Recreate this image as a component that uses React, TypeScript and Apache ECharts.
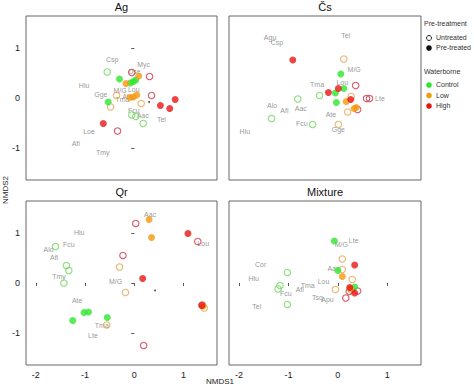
import React, { useEffect, useRef } from "react";
import * as echarts from "echarts";

// [x, y, waterborne level, pre-treated?]
type Pt = [number, number, "Control" | "Low" | "High", boolean];
type Lb = [string, number, number];

const panelTitles = ["Ag", "Čs", "Qr", "Mixture"];
const xTicks = [-2, -1, 0, 1];
const yTicks = [-1, 0, 1];

const agPoints: Pt[] = [
  [-0.3, 0.38, "Control", true], [-0.08, 0.3, "Control", true], [-0.02, 0.33, "Control", true],
  [0.03, 0.36, "Control", true], [-0.53, -0.08, "Control", true],
  [-0.17, 0.29, "Low", true], [0.09, 0.44, "Low", true], [0.05, 0.06, "Low", true],
  [-0.02, 0.02, "Low", true], [-0.09, 0.01, "Low", true],
  [0.83, -0.03, "High", true], [0.53, -0.15, "High", true], [0.72, -0.21, "High", true], [-0.63, -0.51, "High", true],
  [-0.55, 0.52, "Control", false], [-0.05, -0.34, "Control", false], [0.03, -0.37, "Control", false], [0.18, -0.51, "Control", false],
  [-0.36, 0.05, "Low", false], [-0.48, -0.18, "Low", false], [0.14, -0.11, "Low", false],
  [-0.05, 0.51, "High", false], [0.31, 0.43, "High", false], [0.35, 0.05, "High", false], [-0.34, -0.66, "High", false],
];
const agLabels: Lb[] = [
  ["Csp", -0.45, 0.77], ["Myc", 0.19, 0.67], ["Ose", 0.0, 0.53], ["Hlu", -1.02, 0.25], ["M/G", -0.29, 0.16],
  ["Lou", -0.01, 0.17], ["Gge", -0.68, 0.07], ["Ate", -0.14, 0.03], ["Tma", -0.24, -0.02], ["Fcu", -0.01, -0.24],
  ["Aac", 0.17, -0.35], ["Tel", 0.55, -0.43], ["Loe", -0.92, -0.67], ["Afi", -1.19, -0.91], ["Tmy", -0.64, -1.09],
];
const agCentroid = [[0.3, -0.08]];

const csPoints: Pt[] = [
  [0.06, 0.48, "Control", true], [-0.05, 0.1, "Control", true], [0.12, 0.19, "Control", true], [-0.03, -0.09, "Control", true],
  [-0.91, 0.76, "High", true], [-0.19, 0.11, "High", true], [0.01, 0.19, "High", true], [0.26, -0.03, "High", true],
  [0.17, -0.07, "Low", true], [0.33, -0.21, "Low", true], [0.37, -0.19, "Low", true],
  [0.12, 0.78, "Low", false], [0.27, 0.03, "Low", false], [0.2, -0.28, "Low", false], [0.01, -0.53, "Low", false],
  [0.36, 0.25, "High", false], [0.58, -0.01, "High", false], [0.64, -0.01, "High", false], [0.4, -0.23, "High", false],
  [-0.81, -0.02, "Control", false], [-1.34, -0.41, "Control", false], [-0.37, 0.05, "Control", false], [-0.51, -0.53, "Control", false],
];
const csLabels: Lb[] = [
  ["Agu", -1.37, 1.21], ["Csp", -1.23, 1.11], ["Tel", 0.16, 1.25], ["M/G", 0.33, 0.57], ["Tma", -0.42, 0.28],
  ["Lou", 0.09, 0.32], ["Lte", 0.85, -0.01], ["Alo", -1.33, -0.15], ["Afi", -1.08, -0.24], ["Aac", -0.75, -0.21],
  ["Ate", -0.14, -0.33], ["Fcu", -0.73, -0.5], ["Gge", 0.01, -0.63], ["Hlu", -1.88, -0.67],
];

const qrPoints: Pt[] = [
  [-1.6, 0.73, "Control", false], [-1.38, 0.35, "Control", false], [-1.33, 0.25, "Control", false], [-1.43, 0.0, "Control", false],
  [-1.25, -0.75, "Control", true], [-1.02, -0.59, "Control", true], [-0.93, -0.58, "Control", true], [-0.55, -0.69, "Control", true],
  [-0.56, -0.84, "Low", false],
  [0.03, 1.19, "High", false], [-0.23, 0.55, "High", false], [0.19, -1.25, "High", false], [1.29, 0.83, "High", false],
  [-0.3, 0.32, "Low", false], [-0.18, -0.19, "Low", false],
  [0.3, 1.27, "Low", true], [0.35, 0.91, "Low", true],
  [1.09, 0.99, "High", true], [0.17, 0.09, "High", true],
  [1.37, -0.45, "High", true], [1.4, -0.46, "Low", true], [1.38, -0.44, "High", false], [1.42, -0.5, "Low", false],
];
const qrLabels: Lb[] = [
  ["Hlu", -1.12, 1.01], ["Fcu", -1.33, 0.77], ["Alo", -1.74, 0.67], ["Afi", -1.63, 0.52], ["Tmy", -1.53, 0.13],
  ["M/G", -0.38, 0.04], ["Ate", -1.16, -0.35], ["Tma", -0.66, -0.85], ["Lte", -0.84, -1.05], ["Aac", 0.32, 1.37],
  ["Lou", 1.4, 0.79],
];
const qrCentroid = [[0.42, -0.15]];

const mixPoints: Pt[] = [
  [-0.07, 0.84, "Control", true], [0.0, 0.25, "Control", true], [0.34, -0.08, "Control", true],
  [0.34, 0.36, "High", true], [0.34, -0.2, "High", true], [0.24, -0.09, "High", true],
  [0.09, 0.13, "Low", true], [0.25, -0.11, "Low", true],
  [0.09, 0.48, "Low", false], [0.09, 0.27, "Low", false], [0.29, 0.07, "Low", false], [-0.05, -0.13, "Low", false], [0.27, -0.14, "Low", false],
  [0.16, -0.3, "High", false], [0.4, -0.16, "High", false], [0.23, -0.17, "High", false],
  [-1.02, 0.21, "Control", false], [-1.17, -0.05, "Control", false], [-1.21, -0.12, "Control", false], [-1.02, -0.43, "Control", false],
];
const mixLabels: Lb[] = [
  ["M/G", 0.07, 0.77], ["Lte", 0.32, 0.85], ["Cor", -1.56, 0.37], ["Hlu", -1.7, 0.09], ["Aac", -0.09, 0.29],
  ["Lou", -0.29, 0.03], ["Tma", -0.61, -0.05], ["Afi", -0.77, -0.12], ["Fcu", -1.05, -0.21], ["Tsq", -0.41, -0.29],
  ["Apu", -0.21, -0.32], ["Tel", -1.64, -0.46],
];

const panelPoints = [agPoints, csPoints, qrPoints, mixPoints];
const panelLabels = [agLabels, csLabels, qrLabels, mixLabels];
const panelCentroids = [agCentroid, [], qrCentroid, []];

const levels: ("Control" | "Low" | "High")[] = ["Control", "Low", "High"];
const fillColor = { Control: "#2ee62e", Low: "#f59a0f", High: "#e81515" };
const openColor = { Control: "#6fd45f", Low: "#e6a54e", High: "#cc3347" };

const FONT = "Liberation Sans, Arial, Helvetica, sans-serif";

const grids = [
  { left: 26, top: 16, width: 191, height: 164 },
  { left: 229, top: 16, width: 192, height: 164 },
  { left: 26, top: 201, width: 191, height: 164 },
  { left: 229, top: 201, width: 192, height: 164 },
];

export default function App() {
  const ref = useRef<HTMLDivElement>(null);
  useEffect(() => {
    if (!ref.current) return;
    const chart = echarts.init(ref.current, undefined, { renderer: "svg" });
    const series: any[] = [];
    panelPoints.forEach((pts, i) => {
      series.push({
        type: "scatter",
        xAxisIndex: i,
        yAxisIndex: i,
        z: 1,
        symbolSize: 0,
        silent: true,
        itemStyle: { color: "#7a7a7a" },
        data: panelLabels[i].map(([n, x, y]) => ({ name: n, value: [x, y] })),
        label: {
          show: true,
          position: "inside",
          formatter: "{b}",
          color: "#7a7a7a",
          textBorderWidth: 0,
          textBorderColor: "transparent",
          fontSize: 7,
          fontFamily: FONT,
        },
      });
      levels.forEach((lv) => {
        series.push({
          type: "scatter",
          xAxisIndex: i,
          yAxisIndex: i,
          z: 2,
          symbol: "circle",
          symbolSize: 6.5,
          data: pts.filter((p) => p[2] === lv && !p[3]).map((p) => [p[0], p[1]]),
          itemStyle: { color: "rgba(255,255,255,0)", borderColor: openColor[lv], borderWidth: 1.1 },
        });
        series.push({
          type: "scatter",
          xAxisIndex: i,
          yAxisIndex: i,
          z: 3,
          symbol: "circle",
          symbolSize: 7,
          data: pts.filter((p) => p[2] === lv && p[3]).map((p) => [p[0], p[1]]),
          itemStyle: { color: fillColor[lv] },
        });
      });
      series.push({
        type: "scatter",
        xAxisIndex: i,
        yAxisIndex: i,
        z: 3,
        symbol: "circle",
        symbolSize: 2,
        data: panelCentroids[i],
        itemStyle: { color: "#333" },
      });
    });

    const legendX = 429;
    const legendItems: any[] = [
      { type: "text", left: 424, top: 20, style: { text: "Pre-treatment", fontSize: 7, fill: "#333", fontFamily: FONT } },
      { type: "circle", shape: { cx: legendX, cy: 38, r: 2.5 }, style: { fill: "none", stroke: "#222", lineWidth: 1 } },
      { type: "text", left: 436, top: 34, style: { text: "Untreated", fontSize: 7, fill: "#333", fontFamily: FONT } },
      { type: "circle", shape: { cx: legendX, cy: 48, r: 2.8 }, style: { fill: "#111" } },
      { type: "text", left: 436, top: 44, style: { text: "Pre-treated", fontSize: 7, fill: "#333", fontFamily: FONT } },
      { type: "text", left: 424, top: 68, style: { text: "Waterborne", fontSize: 7, fill: "#333", fontFamily: FONT } },
    ];
    levels.forEach((lv, k) => {
      const cy = 85 + k * 10.5;
      legendItems.push({ type: "circle", shape: { cx: legendX, cy, r: 2.8 }, style: { fill: fillColor[lv] } });
      legendItems.push({ type: "text", left: 436, top: cy - 4, style: { text: lv, fontSize: 7, fill: "#333", fontFamily: FONT } });
    });
    legendItems.push({ type: "text", left: 206, top: 377, style: { text: "NMDS1", fontSize: 8, fill: "#222", fontFamily: FONT } });
    legendItems.push({
      type: "text",
      x: 1,
      y: 204,
      rotation: Math.PI / 2,
      style: { text: "NMDS2", fontSize: 8, fill: "#222", fontFamily: FONT },
    });

    chart.setOption({
      animation: false,
      backgroundColor: "#fff",
      title: panelTitles.map((t, i) => ({
        text: t,
        left: grids[i].left + grids[i].width / 2,
        top: grids[i].top - 15,
        textAlign: "center",
        padding: 0,
        textStyle: { fontSize: 11, fontWeight: "normal", color: "#111", fontFamily: FONT },
      })),
      grid: grids.map((g) => ({ ...g, show: true, borderColor: "#666", borderWidth: 1, backgroundColor: "#fff" })),
      xAxis: grids.map((g, i) => ({
        type: "value",
        gridIndex: i,
        min: -2.2,
        max: 1.68,
        axisLine: { show: false },
        splitLine: { show: false },
        axisTick: { show: i >= 2, length: 3, lineStyle: { color: "#555" }, customValues: xTicks },
        axisLabel: { show: i >= 2, margin: 5, fontSize: 9, color: "#222", fontFamily: FONT, customValues: xTicks },
      })),
      yAxis: grids.map((g, i) => ({
        type: "value",
        gridIndex: i,
        min: -1.64,
        max: 1.64,
        axisLine: { show: false },
        splitLine: { show: false },
        axisTick: { show: i % 2 === 0, length: 3, lineStyle: { color: "#555" }, customValues: yTicks },
        axisLabel: { show: i % 2 === 0, margin: 6, fontSize: 9, color: "#222", fontFamily: FONT, customValues: yTicks },
      })),
      series,
      graphic: legendItems,
    });
    return () => chart.dispose();
  }, []);
  return <div ref={ref} style={{ width: 474, height: 387, position: "absolute", left: 0, top: 0 }} />;
}
